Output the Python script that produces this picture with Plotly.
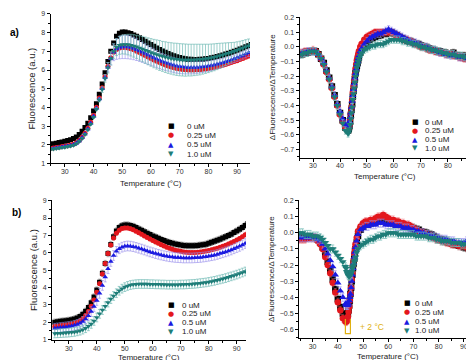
import plotly.graph_objects as go

# ---------------- data ----------------
temps = list(range(25, 96))
labels = ["0 uM", "0.25 uM", "0.5 uM", "1.0 uM"]

# (a) fluorescence
a_f0 = [2.00,2.05,2.08,2.12,2.15,2.18,2.22,2.27,2.33,2.42,2.55,2.72,2.92,3.15,3.45,3.80,4.20,4.70,5.25,5.85,
        6.45,7.00,7.45,7.80,7.97,8.03,8.03,8.00,7.95,7.88,7.80,7.72,7.63,7.54,7.45,7.36,7.27,7.18,7.10,7.02,
        6.95,6.88,6.82,6.76,6.71,6.67,6.63,6.60,6.58,6.57,6.56,6.56,6.57,6.58,6.60,6.62,6.65,6.68,6.72,6.76,
        6.80,6.85,6.90,6.95,7.00,7.06,7.12,7.18,7.24,7.30,7.36]
a_f25 = [1.80,1.82,1.85,1.87,1.90,1.92,1.95,1.98,2.02,2.10,2.22,2.40,2.62,2.88,3.20,3.57,4.00,4.50,5.05,5.65,
         6.20,6.65,6.95,7.10,7.18,7.20,7.20,7.18,7.14,7.08,7.01,6.94,6.86,6.78,6.70,6.62,6.54,6.47,6.40,6.33,
         6.27,6.21,6.16,6.12,6.08,6.05,6.03,6.01,6.00,6.00,6.00,6.01,6.02,6.04,6.06,6.08,6.11,6.14,6.18,6.22,
         6.26,6.30,6.35,6.40,6.45,6.50,6.56,6.62,6.68,6.74,6.80]
a_f50 = [1.78,1.80,1.83,1.85,1.88,1.90,1.93,1.96,2.00,2.08,2.20,2.37,2.58,2.84,3.15,3.52,3.95,4.45,5.00,5.60,
         6.15,6.62,6.95,7.12,7.20,7.23,7.24,7.23,7.20,7.15,7.09,7.02,6.95,6.88,6.80,6.73,6.66,6.59,6.52,6.46,
         6.40,6.35,6.30,6.26,6.22,6.19,6.17,6.15,6.14,6.13,6.13,6.14,6.15,6.17,6.19,6.21,6.24,6.27,6.31,6.35,
         6.39,6.44,6.49,6.54,6.60,6.66,6.72,6.78,6.85,6.92,6.99]
a_f100 = [1.75,1.77,1.80,1.82,1.85,1.87,1.90,1.93,1.97,2.05,2.17,2.34,2.55,2.80,3.10,3.47,3.90,4.40,4.95,5.55,
          6.12,6.62,7.00,7.22,7.32,7.36,7.37,7.36,7.33,7.29,7.24,7.18,7.12,7.06,7.00,6.94,6.88,6.83,6.78,6.73,
          6.69,6.65,6.62,6.59,6.57,6.55,6.54,6.53,6.53,6.53,6.54,6.55,6.56,6.58,6.60,6.62,6.65,6.68,6.72,6.76,
          6.80,6.85,6.90,6.95,7.00,7.06,7.12,7.18,7.24,7.30,7.36]
a_err50 = [0.05]*19 + [0.15,0.25,0.35,0.45,0.55,0.60,0.62,0.63,0.63,0.62,0.60,0.58,0.56,0.54,0.52,0.50,0.48,
           0.46,0.45,0.44,0.43,0.42,0.41,0.40,0.40,0.39,0.38,0.37,0.36,0.35,0.34,0.33,0.32,0.31,0.30,0.29,
           0.28,0.27,0.26,0.25,0.24,0.23,0.22,0.21,0.20,0.20,0.20,0.20,0.20,0.20,0.20,0.20]
a_err100 = [0.05]*16 + [0.08,0.10,0.15,0.20,0.28,0.35,0.40,0.45,0.48,0.50,0.52,0.55,0.58,0.60,0.62,0.65,0.68,
            0.70,0.72,0.74,0.76,0.78,0.80,0.80,0.82,0.83,0.84,0.85,0.86,0.86,0.86,0.86,0.85,0.85,0.84,0.83,
            0.82,0.80,0.78,0.76,0.74,0.72,0.70,0.67,0.64,0.60,0.56,0.52,0.48,0.45,0.42,0.40,0.38,0.36,0.35]

# (a) derivative (1 °C grid)
a_d0 = [-0.05,-0.05,-0.04,-0.04,-0.03,-0.03,-0.03,-0.05,-0.08,-0.11,-0.16,-0.21,-0.27,-0.33,-0.39,-0.45,-0.50,-0.55,-0.57,-0.47,
        -0.30,-0.15,-0.07,-0.02,0.01,0.03,0.05,0.06,0.07,0.08,0.08,0.09,0.09,0.10,0.10,0.09,0.08,0.07,0.06,0.05,
        0.04,0.04,0.03,0.02,0.02,0.01,0.00,0.00,-0.01,-0.02,-0.02,-0.03,-0.03,-0.04,-0.04,-0.05,-0.05,-0.04,-0.06,-0.06,
        -0.07,-0.06,-0.07,-0.08,-0.08,-0.07,-0.08,-0.09,-0.08,-0.09,-0.09]
a_d25 = [-0.04,-0.04,-0.03,-0.03,-0.03,-0.02,-0.03,-0.05,-0.08,-0.12,-0.17,-0.22,-0.28,-0.34,-0.40,-0.46,-0.51,-0.55,-0.56,-0.45,
         -0.27,-0.12,-0.03,0.02,0.05,0.07,0.08,0.09,0.10,0.10,0.10,0.10,0.10,0.10,0.10,0.09,0.08,0.07,0.06,0.05,
         0.05,0.04,0.03,0.02,0.01,0.00,0.00,-0.01,-0.02,-0.02,-0.03,-0.03,-0.04,-0.04,-0.05,-0.05,-0.05,-0.06,-0.06,-0.07,
         -0.07,-0.08,-0.08,-0.09,-0.09,-0.09,-0.10,-0.10,-0.10,-0.10,-0.11]
a_d50 = [-0.05,-0.04,-0.04,-0.03,-0.03,-0.03,-0.03,-0.05,-0.08,-0.11,-0.16,-0.21,-0.27,-0.33,-0.39,-0.44,-0.49,-0.53,-0.54,-0.45,
         -0.29,-0.15,-0.06,-0.01,0.02,0.04,0.06,0.07,0.08,0.09,0.09,0.10,0.11,0.12,0.11,0.10,0.09,0.08,0.07,0.06,
         0.05,0.04,0.03,0.03,0.02,0.01,0.00,0.00,-0.01,-0.02,-0.02,-0.03,-0.04,-0.04,-0.05,-0.05,-0.06,-0.05,-0.06,-0.07,
         -0.07,-0.07,-0.08,-0.08,-0.08,-0.08,-0.09,-0.09,-0.09,-0.10,-0.10]
a_d100 = [-0.05,-0.05,-0.04,-0.04,-0.03,-0.03,-0.03,-0.05,-0.08,-0.12,-0.17,-0.22,-0.28,-0.34,-0.40,-0.46,-0.52,-0.57,-0.59,-0.49,
          -0.32,-0.17,-0.08,-0.04,-0.02,-0.01,0.00,0.01,0.01,0.02,0.02,0.02,0.03,0.04,0.05,0.05,0.05,0.05,0.04,0.04,
          0.03,0.03,0.02,0.02,0.01,0.00,0.00,-0.01,-0.01,-0.02,-0.02,-0.03,-0.03,-0.04,-0.04,-0.05,-0.05,-0.05,-0.06,-0.06,
          -0.06,-0.07,-0.07,-0.07,-0.08,-0.08,-0.08,-0.09,-0.09,-0.09,-0.10]

# extra, finer readings across the steep rise after the minimum
temps_fine = [43.25, 43.5, 43.75, 44.25, 44.5, 44.75, 45.25, 45.5, 45.75, 46.25, 46.5, 46.75, 47.5]
a_d0_fine = [-0.56,-0.54,-0.51,-0.43,-0.39,-0.34,-0.26,-0.22,-0.18,-0.13,-0.11,-0.09,-0.04]
a_d25_fine = [-0.55,-0.53,-0.49,-0.41,-0.36,-0.31,-0.23,-0.19,-0.15,-0.09,-0.07,-0.05,0.00]
a_d50_fine = [-0.53,-0.51,-0.48,-0.41,-0.37,-0.33,-0.25,-0.21,-0.18,-0.12,-0.10,-0.08,-0.03]
a_d100_fine = [-0.58,-0.56,-0.53,-0.45,-0.41,-0.36,-0.28,-0.24,-0.20,-0.14,-0.12,-0.10,-0.06]

# (b) fluorescence
b_f0 = [2.00,2.02,2.05,2.07,2.09,2.11,2.14,2.18,2.24,2.33,2.46,2.63,2.85,3.12,3.45,3.85,4.30,4.82,5.38,5.95,
        6.48,6.92,7.25,7.45,7.56,7.60,7.60,7.57,7.52,7.45,7.37,7.29,7.21,7.13,7.05,6.97,6.90,6.83,6.76,6.70,
        6.64,6.59,6.54,6.50,6.47,6.44,6.42,6.41,6.40,6.40,6.41,6.42,6.44,6.46,6.49,6.55,6.60,6.66,6.72,6.78,
        6.85,6.92,6.99,7.07,7.16,7.25,7.35,7.45,7.57,7.68,7.78]
b_f25 = [1.75,1.77,1.79,1.81,1.83,1.85,1.88,1.92,1.98,2.07,2.20,2.38,2.62,2.92,3.28,3.72,4.22,4.78,5.38,5.95,
         6.45,6.85,7.13,7.30,7.39,7.42,7.42,7.38,7.32,7.24,7.15,7.06,6.97,6.88,6.79,6.70,6.62,6.54,6.46,6.39,
         6.32,6.26,6.20,6.15,6.11,6.08,6.05,6.03,6.02,6.02,6.02,6.03,6.05,6.07,6.10,6.13,6.17,6.21,6.26,6.31,
         6.37,6.43,6.50,6.57,6.65,6.73,6.82,6.92,7.03,7.14,7.25]
b_f50 = [1.65,1.67,1.69,1.71,1.73,1.75,1.78,1.82,1.87,1.94,2.04,2.18,2.37,2.61,2.90,3.25,3.66,4.12,4.60,5.08,
         5.50,5.84,6.08,6.23,6.32,6.37,6.39,6.38,6.35,6.31,6.26,6.21,6.16,6.10,6.05,6.00,5.95,5.91,5.87,5.83,
         5.80,5.77,5.75,5.73,5.72,5.71,5.70,5.70,5.70,5.70,5.71,5.72,5.73,5.75,5.77,5.80,5.83,5.86,5.90,5.95,
         6.00,6.05,6.10,6.16,6.23,6.30,6.37,6.45,6.53,6.60,6.68]
b_f100 = [1.35,1.36,1.37,1.38,1.39,1.40,1.42,1.44,1.47,1.51,1.57,1.65,1.76,1.90,2.07,2.27,2.48,2.70,2.92,3.13,
          3.33,3.51,3.67,3.81,3.93,4.02,4.09,4.14,4.17,4.19,4.20,4.20,4.20,4.20,4.19,4.19,4.18,4.18,4.17,4.17,
          4.16,4.16,4.16,4.16,4.16,4.17,4.17,4.18,4.19,4.20,4.21,4.23,4.25,4.27,4.29,4.32,4.35,4.38,4.42,4.46,
          4.50,4.54,4.59,4.64,4.69,4.74,4.80,4.86,4.92,4.98,5.04]
b_err = [0.18, 0.10, 0.28, 0.25]

# (b) derivative
b_d0 = [-0.03,-0.03,-0.03,-0.03,-0.03,-0.03,-0.03,-0.04,-0.06,-0.09,-0.13,-0.18,-0.23,-0.29,-0.35,-0.41,-0.46,-0.50,-0.52,-0.50,
        -0.38,-0.22,-0.10,-0.02,0.02,0.04,0.05,0.06,0.06,0.07,0.07,0.08,0.08,0.08,0.08,0.07,0.07,0.06,0.06,0.05,
        0.05,0.05,0.04,0.04,0.03,0.03,0.02,0.02,0.01,0.00,0.00,-0.01,-0.01,-0.02,-0.03,-0.04,-0.04,-0.05,-0.05,-0.06,
        -0.06,-0.07,-0.07,-0.08,-0.08,-0.09,-0.09,-0.10,-0.11,-0.12,-0.12]
b_d25 = [-0.04,-0.04,-0.04,-0.03,-0.03,-0.03,-0.03,-0.05,-0.07,-0.10,-0.15,-0.20,-0.25,-0.31,-0.37,-0.43,-0.48,-0.53,-0.55,-0.52,
         -0.38,-0.20,-0.07,0.01,0.04,0.06,0.07,0.07,0.08,0.08,0.09,0.10,0.10,0.11,0.10,0.09,0.08,0.08,0.07,0.07,
         0.06,0.06,0.05,0.05,0.04,0.03,0.02,0.01,0.00,0.00,-0.01,-0.02,-0.02,-0.03,-0.04,-0.04,-0.05,-0.05,-0.06,-0.06,
         -0.07,-0.07,-0.07,-0.08,-0.08,-0.08,-0.09,-0.09,-0.09,-0.10,-0.10]
b_d50 = [-0.03,-0.03,-0.03,-0.03,-0.03,-0.03,-0.03,-0.04,-0.05,-0.07,-0.10,-0.13,-0.17,-0.21,-0.26,-0.31,-0.36,-0.40,-0.44,-0.45,
         -0.38,-0.22,-0.09,-0.01,0.02,0.03,0.04,0.04,0.05,0.05,0.05,0.06,0.06,0.06,0.05,0.05,0.05,0.05,0.04,0.04,
         0.04,0.03,0.03,0.03,0.02,0.02,0.01,0.01,0.00,0.00,-0.01,-0.01,-0.02,-0.02,-0.03,-0.03,-0.04,-0.04,-0.04,-0.05,
         -0.05,-0.05,-0.06,-0.06,-0.06,-0.06,-0.05,-0.05,-0.04,-0.03,-0.03]
b_d100 = [0.00,0.00,-0.01,-0.01,-0.01,-0.02,-0.02,-0.02,-0.03,-0.04,-0.06,-0.08,-0.10,-0.10,-0.12,-0.14,-0.16,-0.18,-0.21,-0.26,
          -0.26,-0.21,-0.15,-0.10,-0.08,-0.07,-0.06,-0.05,-0.04,-0.04,-0.03,-0.02,-0.02,-0.01,-0.01,0.00,0.00,0.00,0.00,-0.01,
          -0.01,-0.01,-0.01,-0.01,-0.01,-0.01,-0.02,-0.02,-0.02,-0.02,-0.02,-0.03,-0.03,-0.03,-0.04,-0.04,-0.05,-0.05,-0.05,-0.05,
          -0.06,-0.06,-0.06,-0.06,-0.07,-0.07,-0.07,-0.08,-0.08,-0.08,-0.09]
b_d0_fine = [-0.52,-0.52,-0.51,-0.48,-0.45,-0.42,-0.34,-0.30,-0.26,-0.19,-0.16,-0.13,-0.06]
b_d25_fine = [-0.55,-0.55,-0.54,-0.49,-0.46,-0.42,-0.34,-0.29,-0.25,-0.17,-0.13,-0.10,-0.03]
b_d50_fine = [-0.445,-0.45,-0.45,-0.44,-0.42,-0.40,-0.34,-0.30,-0.26,-0.19,-0.15,-0.12,-0.05]
b_d100_fine = [-0.22,-0.24,-0.25,-0.265,-0.27,-0.265,-0.25,-0.24,-0.22,-0.20,-0.18,-0.17,-0.12]

# ---------------- style ----------------
colors = ["#000000", "#e3171d", "#1a1ae0", "#1e7d78"]
err_colors = ["rgba(80,80,80,0.55)", "rgba(235,110,120,0.6)", "rgba(150,140,235,0.75)", "rgba(110,185,180,0.85)"]
symbols = ["square", "circle", "triangle-up", "triangle-down"]
glyphs = ["■", "●", "▲", "▼"]
FONT = "Liberation Sans, Arial, sans-serif"

fig = go.Figure()

panels = [
    ("x", "y", [a_f0, a_f25, a_f50, a_f100], None, [0.06, 0.06, a_err50, a_err100], 5),
    ("x2", "y2", [a_d0, a_d25, a_d50, a_d100], [a_d0_fine, a_d25_fine, a_d50_fine, a_d100_fine], [0.025] * 4, 6.5),
    ("x3", "y3", [b_f0, b_f25, b_f50, b_f100], None, b_err, 5),
    ("x4", "y4", [b_d0, b_d25, b_d50, b_d100], [b_d0_fine, b_d25_fine, b_d50_fine, b_d100_fine], [0.025] * 4, 6.5),
]

for xa, ya, series, fine, errs, msize in panels:
    for i, vals in enumerate(series):
        e = errs[i]
        xs = list(temps)
        ys = list(vals)
        if fine is not None:
            xs += temps_fine
            ys += fine[i]
        if isinstance(e, list):
            ey = dict(type="data", array=e, visible=True, color=err_colors[i], thickness=0.8, width=1.5)
        else:
            ey = dict(type="constant", value=e, visible=True, color=err_colors[i], thickness=0.8, width=1.5)
        fig.add_trace(go.Scatter(
            x=xs, y=ys, xaxis=xa, yaxis=ya, mode="markers", name=labels[i],
            showlegend=False,
            marker=dict(symbol=symbols[i], size=msize, color=colors[i], line=dict(width=0)),
            error_y=ey,
        ))

def px_x(p):
    return p / 474.0

def px_y(p):
    return 1 - p / 360.0

axis_common = dict(
    showline=True, linecolor="black", linewidth=1, ticks="outside", ticklen=3,
    tickcolor="black", tickwidth=1, showgrid=False, zeroline=False,
    tickfont=dict(size=7, color="#333333", family=FONT),
    mirror=False,
)
ftitle = dict(text="Fluorescence (a.u.)", font=dict(size=9.5, color="#222222", family=FONT), standoff=3)
dtitle = dict(text="ΔFluorescence/ΔTemperature", font=dict(size=8, color="#222222", family=FONT), standoff=3)
xminor = dict(ticks="outside", ticklen=2, dtick=5, tickcolor="black")
xcommon = dict(dtick=10, tick0=30, minor=xminor, ticklabelstandoff=-2)

fig.update_layout(
    width=474, height=360, margin=dict(l=0, r=0, t=0, b=0),
    paper_bgcolor="white", plot_bgcolor="white", showlegend=False,
    font=dict(family=FONT),
    xaxis=dict(**axis_common, **xcommon, domain=[px_x(42.5), px_x(242)], range=[25, 94.5], anchor="y"),
    yaxis=dict(**axis_common, domain=[px_y(155), px_y(3)], range=[1, 9], anchor="x", dtick=1,
               minor=dict(ticks="outside", ticklen=2, dtick=0.5, tickcolor="black"), title=ftitle),
    xaxis2=dict(**axis_common, **xcommon, domain=[px_x(291.5), 1.0], range=[25, 92.6], anchor="y2"),
    yaxis2=dict(**axis_common, domain=[px_y(149), px_y(6)], range=[-0.754, 0.205], anchor="x2",
                dtick=0.1, tickformat=".1f",
                minor=dict(ticks="outside", ticklen=2, dtick=0.05, tickcolor="black"), title=dtitle),
    xaxis3=dict(**axis_common, **xcommon, domain=[px_x(44), px_x(238)], range=[24, 93.3], anchor="y3"),
    yaxis3=dict(**axis_common, domain=[px_y(335), px_y(192)], range=[0.95, 9.05], anchor="x3", dtick=1,
                minor=dict(ticks="outside", ticklen=2, dtick=0.5, tickcolor="black"), title=ftitle),
    xaxis4=dict(**axis_common, **xcommon, domain=[px_x(291), px_x(469)], range=[24.6, 95.2], anchor="y4"),
    yaxis4=dict(**axis_common, domain=[px_y(333), px_y(192)], range=[-0.655, 0.205], anchor="x4",
                dtick=0.1, tickformat=".1f",
                minor=dict(ticks="outside", ticklen=2, dtick=0.05, tickcolor="black"), title=dtitle),
)

annotations = []
# panel labels
annotations.append(dict(text="<b>a)</b>", x=0.0, y=px_y(22), xref="paper", yref="paper",
                        xanchor="left", yanchor="middle", showarrow=False,
                        font=dict(size=10, color="black", family=FONT)))
annotations.append(dict(text="<b>b)</b>", x=0.004, y=px_y(205), xref="paper", yref="paper",
                        xanchor="left", yanchor="middle", showarrow=False,
                        font=dict(size=10, color="black", family=FONT)))

# x-axis titles
for cx, cy in [(143, 175), (377, 168), (141, 352), (380, 351.5)]:
    annotations.append(dict(text="Temperature (°C)", x=px_x(cx), y=px_y(cy), xref="paper", yref="paper",
                            xanchor="center", yanchor="middle", showarrow=False, borderpad=0,
                            font=dict(size=8, color="#222222", family=FONT)))

# legends (text-based)
legend_specs = [
    (163, 177, [117, 126.5, 136, 145.5]),
    (407, 415, [113, 122, 131, 139.5]),
    (163, 172, [299, 308, 317, 326]),
    (399, 405, [297, 306.5, 316, 325]),
]
for mx, tx, rows in legend_specs:
    for i, ry in enumerate(rows):
        annotations.append(dict(text=glyphs[i], x=px_x(mx), y=px_y(ry), xref="paper", yref="paper",
                                xanchor="center", yanchor="middle", showarrow=False,
                                font=dict(size=7, color=colors[i], family="DejaVu Sans")))
        annotations.append(dict(text=labels[i], x=px_x(tx), y=px_y(ry), xref="paper", yref="paper",
                                xanchor="left", yanchor="middle", showarrow=False,
                                font=dict(size=8, color="#222222", family=FONT)))

# +2 °C annotation in panel b right
annotations.append(dict(text="+ 2 °C", x=48, y=-0.585, xref="x4", yref="y4",
                        xanchor="left", yanchor="middle", showarrow=False,
                        font=dict(size=8.5, color="#e0b012", family=FONT)))
fig.update_layout(annotations=annotations)

fig.add_shape(type="path", path="M 43,-0.535 L 43,-0.625 L 45,-0.625 L 45,-0.535",
              xref="x4", yref="y4", line=dict(color="#e0b012", width=1.2))

fig.write_html("out.html")
